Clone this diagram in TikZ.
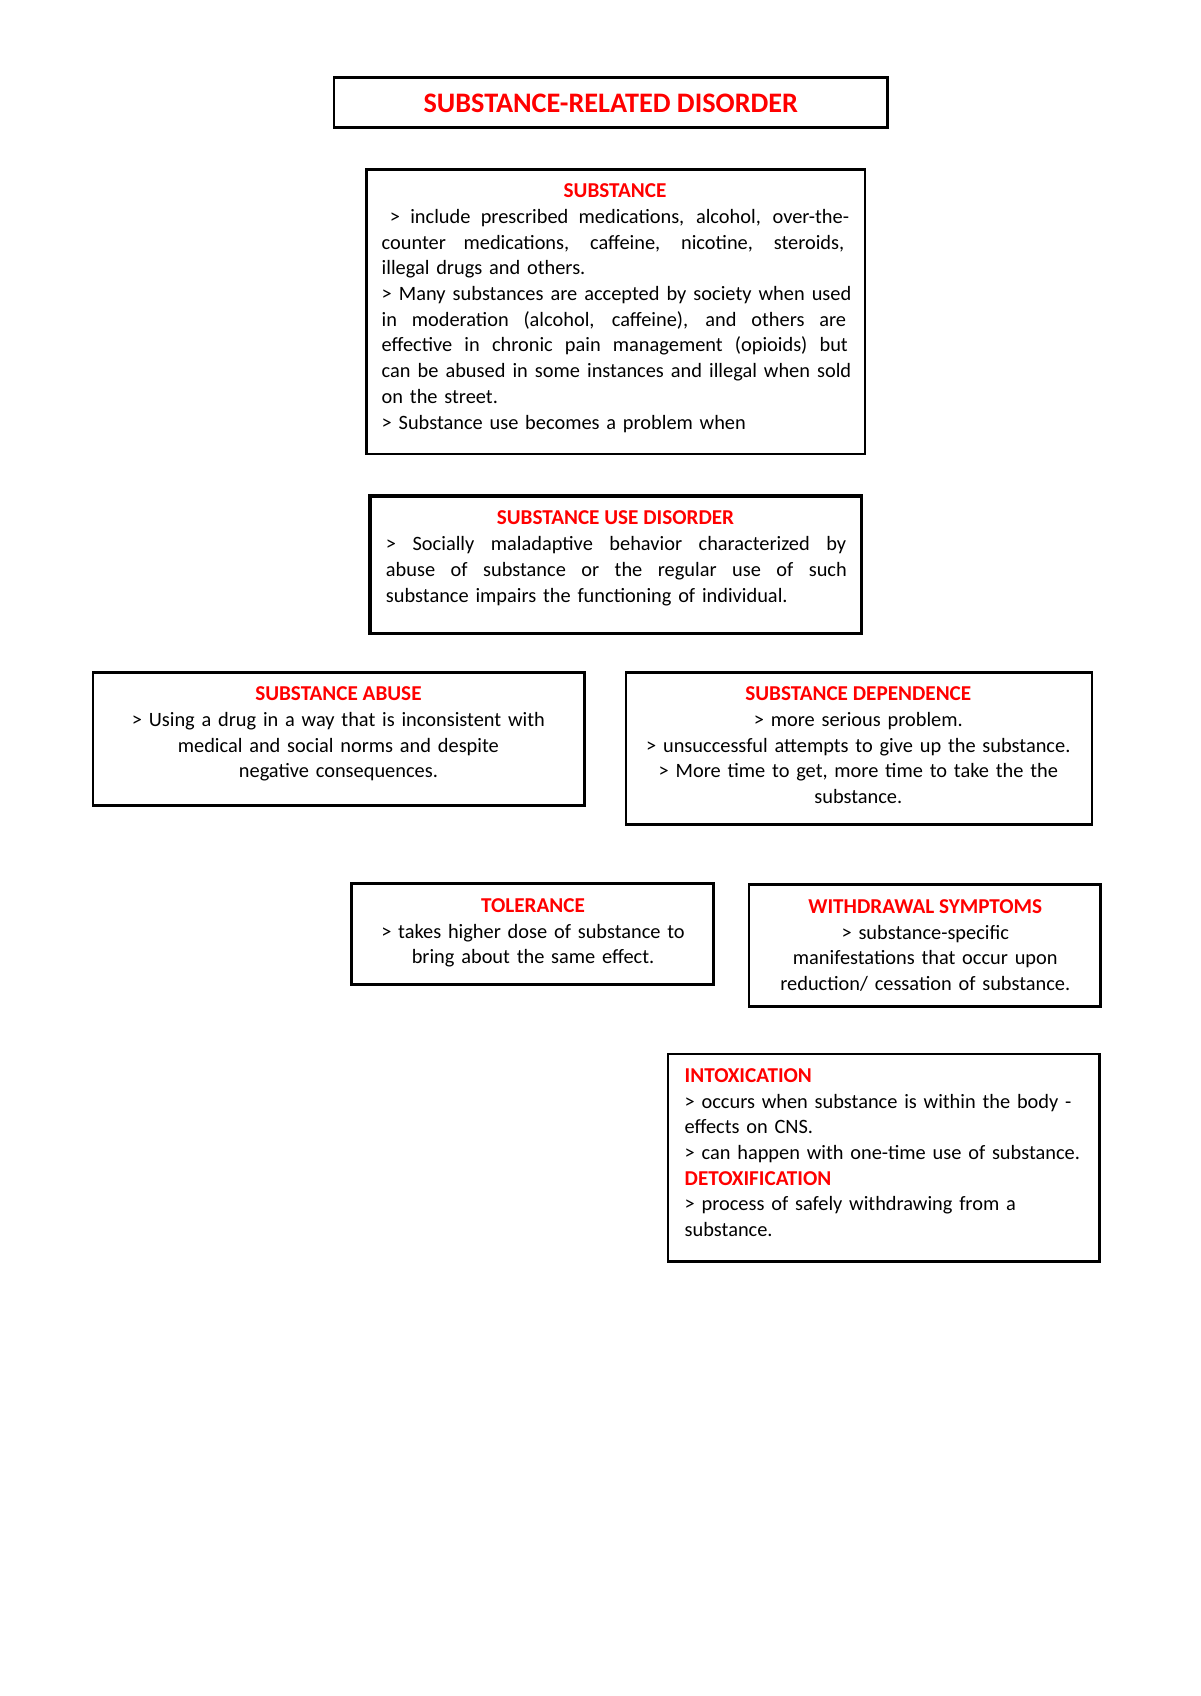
\documentclass[tikz,border=0pt]{standalone}
\usepackage{fontspec}
\setmainfont{Carlito}
\usetikzlibrary{fit}
\definecolor{hred}{RGB}{255,0,0}
\newcommand\jline[1]{{\spaceskip=0.23em plus 3em minus 0.05em\relax\parfillskip=0pt\relax\noindent #1\par}}
\newcommand\lline[1]{{\noindent #1\par}}
\begin{document}
\begin{tikzpicture}[x=0.49583pt, y=-0.49583pt,
  frame/.style={draw, line width=1.3pt, inner sep=0pt},
  thickframe/.style={frame, line width=1.8pt},
  head/.style={font=\fontsize{10.5}{12.75}\selectfont\bfseries, text=hred, inner sep=0pt, anchor=base},
  body/.style={font=\fontsize{10.1}{12.75}\selectfont, inner sep=0pt, anchor=base},
  titletext/.style={font=\fontsize{14}{16}\selectfont\bfseries, text=hred, inner sep=0pt, anchor=base}]
\useasboundingbox (0,0) rectangle (1200,1696);

% Title
\node[frame, fit={(334,77.8) (887.5,127.6)}] (titlebox) {};
\node[titletext] (titlelbl) at (610.8,112.5) {SUBSTANCE-RELATED DISORDER};

% Substance
\node[frame, fit={(366.5,169.7) (865,454)}] (subbox) {};
\node[head] (subhead) at (615,197.5) {SUBSTANCE};
\node[body, text width=233.6pt] (subbody) at (617.3,223.4) {%
\jline{\hspace*{4pt}> include prescribed medications, alcohol, over-the-}
\jline{counter medications, caffeine, nicotine, steroids,}
\lline{illegal drugs and others.}
\jline{> Many substances are accepted by society when used}
\jline{in moderation (alcohol, caffeine), and others are}
\jline{effective in chronic pain management (opioids) but}
\jline{can be abused in some instances and illegal when sold}
\lline{on the street.}
\lline{> Substance use becomes a problem when}};

% Substance use disorder
\node[thickframe, fit={(369.7,496) (861.6,633.5)}] (sudbox) {};
\node[head] (sudhead) at (615.5,524.9) {SUBSTANCE USE DISORDER};
\node[body, text width=232.1pt] (sudbody) at (620,550.6) {%
\jline{> Socially maladaptive behavior characterized by}
\jline{abuse of substance or the regular use of such}
\lline{substance impairs the functioning of individual.}};

% Substance abuse
\node[frame, fit={(93,672.4) (584.8,805.3)}] (abusebox) {};
\node[head] (abusehead) at (338.4,700.7) {SUBSTANCE ABUSE};
\node[body, text width=280pt, align=center] (abusebody) at (338.4,726.4) {%
> Using a drug in a way that is inconsistent with\\
medical and social norms and despite\\
negative consequences.};

% Substance dependence
\node[frame, fit={(626,672.4) (1091.8,824.8)}] (depbox) {};
\node[head] (dephead) at (858.3,700.7) {SUBSTANCE DEPENDENCE};
\node[body, text width=280pt, align=center] (depbody) at (858.3,726.4) {%
> more serious problem.\\
> unsuccessful attempts to give up the substance.\\
> More time to get, more time to take the the\\
substance.};

% Tolerance
\node[frame, fit={(351.3,883.2) (713.5,984.8)}] (tolbox) {};
\node[head] (tolhead) at (533,912.3) {TOLERANCE};
\node[body, text width=240pt, align=center] (tolbody) at (533,938) {%
> takes higher dose of substance to\\
bring about the same effect.};

% Withdrawal
\node[frame, fit={(749,884.3) (1100.5,1006.4)}] (wdbox) {};
\node[head] (wdhead) at (925.3,913.4) {WITHDRAWAL SYMPTOMS};
\node[body, text width=240pt, align=center] (wdbody) at (925.3,939.1) {%
> substance-specific\\
manifestations that occur upon\\
reduction/ cessation of substance.};

% Intoxication / detoxification
\node[frame, fit={(668,1054) (1099.4,1261.5)}] (intbox) {};
\node[body, anchor=base west, text width=260pt, align=left] (intbody) at (684.3,1082.4) {%
{\fontsize{10.5}{12.75}\selectfont\bfseries\color{hred}INTOXICATION}\\
> occurs when substance is within the body -\\
effects on CNS.\\
> can happen with one-time use of substance.\\
{\fontsize{10.5}{12.75}\selectfont\bfseries\color{hred}DETOXIFICATION}\\
> process of safely withdrawing from a\\
substance.};
\end{tikzpicture}
\end{document}
